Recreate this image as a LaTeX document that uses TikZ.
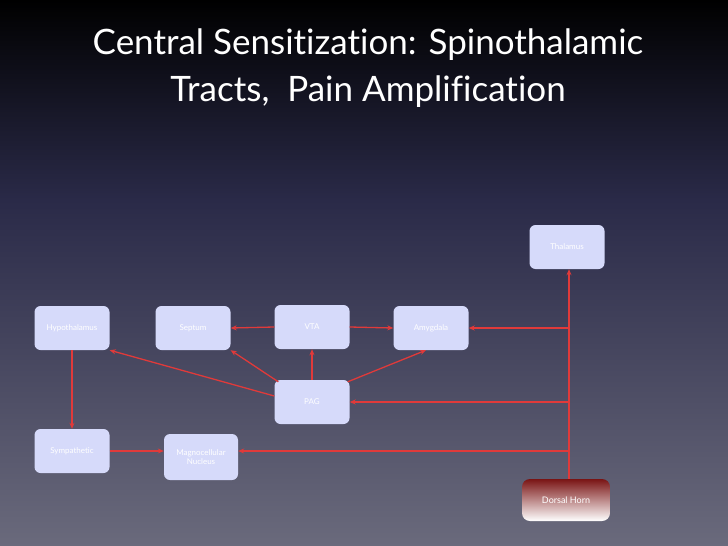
\documentclass[tikz,border=0pt]{standalone}
\usepackage{fontspec}
\setmainfont{Lato}[Ligatures={NoCommon}]
\usetikzlibrary{arrows.meta}
\definecolor{boxc}{HTML}{D6DAFA}
\definecolor{topc}{HTML}{000000}
\definecolor{midc}{HTML}{2A2A48}
\definecolor{botc}{HTML}{6A6A7C}
\definecolor{redc}{HTML}{E03A3A}
\definecolor{dhtop}{HTML}{7A1414}
\tikzset{
  bx/.style={draw=none,fill=boxc,rounded corners=6pt,minimum width=75pt,minimum height=44pt,text=white,font=\fontsize{8}{9}\selectfont,align=center},
  ar/.style={draw=redc,line width=1.3pt,-{Stealth[length=6pt,width=5pt]}},
  ln/.style={draw=redc,line width=1.3pt}
}
\begin{document}
\begin{tikzpicture}[x=1pt,y=-1pt]
\useasboundingbox (0,0) rectangle (728,546);
\shade[top color=topc,bottom color=midc] (0,0) rectangle (728,200);
\shade[top color=midc,bottom color=botc] (0,200) rectangle (728,546);
\node[text=white,font=\fontsize{35}{47}\selectfont,align=center] (title) at (368,68) {Central Sensitization: Spinothalamic\\Tracts,\ \ Pain Amplification};
\node[bx] (thal) at (567,247) {Thalamus};
\node[bx] (hyp) at (72,328) {Hypothalamus};
\node[bx] (sep) at (193,328) {Septum};
\node[bx] (vta) at (312,327) {VTA};
\node[bx] (amy) at (431,328) {Amygdala};
\node[bx] (pag) at (312,402) {PAG};
\node[bx] (sym) at (72,451) {Sympathetic};
\node[bx,minimum width=74pt,minimum height=46pt] (mag) at (201,457) {Magnocellular\\Nucleus};
\node[rounded corners=8pt,minimum width=88pt,minimum height=42pt,top color=dhtop,bottom color=white,text=white,font=\fontsize{9}{10}\selectfont] (dh) at (566,500) {Dorsal Horn};
\coordinate (j1) at (569,328);
\coordinate (j2) at (569,402);
\coordinate (j3) at (569,451);
\draw[ar] (dh.north -| j1) -- (thal.south -| j1);
\draw[ar] (j1) -- (amy.east);
\draw[ar] (j2) -- (pag.east);
\draw[ar] (j3) -- (mag.east |- j3);
\draw[ar] (vta.west) -- (sep.east);
\draw[ar] (vta.east) -- (amy.west);
\draw[ar] (pag.north) -- (vta.south);
\draw[ar] (pag.north west) ++(4,2) -- (sep.south east);
\draw[ar] (pag.west) ++(0,-6) -- (hyp.south east);
\draw[ar] (pag.north east) ++(-2,2) -- ([xshift=-5pt]amy.south);
\draw[ar] (hyp.south) -- (sym.north);
\draw[ar] (sym.east) -- (mag.west |- sym.east);
\end{tikzpicture}
\end{document}
